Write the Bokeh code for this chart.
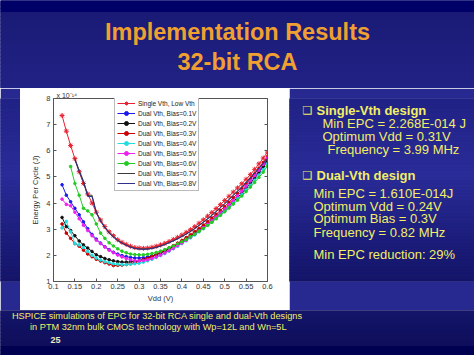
from bokeh.plotting import figure
from bokeh.layouts import column, row
from bokeh.models import (Range1d, LinearAxis, FixedTicker, Title,
                          Legend, LegendItem, ColumnDataSource)
from bokeh.core.properties import value
from bokeh.embed import file_html
from bokeh.resources import INLINE

# ---------------- data (EPC in units of 1e-14 J) ----------------
VDD = [0.12, 0.13, 0.14, 0.15, 0.16, 0.17, 0.18, 0.19, 0.20, 0.21,
       0.22, 0.23, 0.24, 0.25, 0.26, 0.27, 0.28, 0.29, 0.30, 0.31,
       0.32, 0.33, 0.34, 0.35, 0.36, 0.37, 0.38, 0.39, 0.40, 0.41,
       0.42, 0.43, 0.44, 0.45, 0.46, 0.47, 0.48, 0.49, 0.50, 0.51,
       0.52, 0.53, 0.54, 0.55, 0.56, 0.57, 0.58, 0.59, 0.60]

single_vth = [7.35, 6.75, 6.2, 5.7, 5.2, 4.75, 4.35, 4.0, 3.65, 3.35,
              3.1, 2.9, 2.75, 2.6, 2.5, 2.42, 2.35, 2.3, 2.28, 2.27,
              2.28, 2.31, 2.35, 2.4, 2.46, 2.53, 2.61, 2.69, 2.78, 2.88,
              2.98, 3.1, 3.23, 3.36, 3.5, 3.64, 3.79, 3.94, 4.1, 4.26,
              4.42, 4.58, 4.74, 4.91, 5.09, 5.29, 5.5, 5.72, 5.95]
bias_01 = [4.7, 4.3, 4.05, 3.8, 3.55, 3.28, 3.02, 2.8, 2.62, 2.47,
           2.33, 2.22, 2.12, 2.05, 1.99, 1.95, 1.92, 1.9, 1.9, 1.91,
           1.94, 1.98, 2.03, 2.09, 2.16, 2.24, 2.32, 2.41, 2.5, 2.6,
           2.7, 2.81, 2.92, 3.04, 3.16, 3.29, 3.42, 3.56, 3.7, 3.86,
           4.03, 4.2, 4.38, 4.57, 4.77, 4.98, 5.2, 5.43, 5.67]
bias_02 = [3.45, 3.1, 2.95, 2.75, 2.55, 2.4, 2.28, 2.15, 2.02, 1.95,
           1.88, 1.83, 1.79, 1.76, 1.74, 1.74, 1.75, 1.77, 1.8, 1.84,
           1.89, 1.95, 2.02, 2.09, 2.17, 2.25, 2.34, 2.43, 2.53, 2.63,
           2.74, 2.85, 2.97, 3.09, 3.21, 3.34, 3.47, 3.61, 3.75, 3.9,
           4.05, 4.21, 4.38, 4.56, 4.75, 4.95, 5.16, 5.38, 5.6]
bias_03 = [3.2, 2.85, 2.65, 2.45, 2.35, 2.2, 2.05, 1.95, 1.85, 1.78,
           1.72, 1.67, 1.61, 1.62, 1.63, 1.65, 1.68, 1.72, 1.77, 1.83,
           1.89, 1.96, 2.03, 2.11, 2.19, 2.28, 2.37, 2.47, 2.57, 2.68,
           2.79, 2.91, 3.03, 3.16, 3.29, 3.43, 3.57, 3.72, 3.87, 4.03,
           4.2, 4.37, 4.55, 4.73, 4.92, 5.12, 5.33, 5.55, 5.78]
bias_04 = [3.05, 3.3, 2.9, 2.45, 2.4, 2.3, 2.15, 2.0, 1.9, 1.82,
           1.76, 1.72, 1.68, 1.66, 1.65, 1.65, 1.66, 1.68, 1.7, 1.74,
           1.79, 1.85, 1.92, 1.99, 2.07, 2.16, 2.25, 2.35, 2.45, 2.56,
           2.67, 2.78, 2.9, 3.02, 3.15, 3.28, 3.42, 3.56, 3.71, 3.86,
           4.01, 4.17, 4.33, 4.5, 4.68, 4.87, 5.07, 5.28, 5.5]
bias_05 = [4.15, 3.95, 3.9, 3.65, 3.4, 3.15, 2.95, 2.75, 2.58, 2.45,
           2.32, 2.2, 2.1, 2.01, 1.94, 1.88, 1.83, 1.8, 1.79, 1.8,
           1.83, 1.88, 1.94, 2.01, 2.09, 2.18, 2.27, 2.37, 2.47, 2.58,
           2.69, 2.81, 2.93, 3.06, 3.19, 3.33, 3.47, 3.62, 3.77, 3.93,
           4.1, 4.28, 4.46, 4.65, 4.85, 5.05, 5.26, 5.48, 5.72]
# starts at Vdd = 0.14
bias_06 = [5.4, 4.75, 4.3, 3.8, 3.7, 3.55, 3.2, 2.85,
           2.65, 2.48, 2.36, 2.25, 2.16, 2.1, 2.05, 2.03, 2.02, 2.02,
           2.04, 2.07, 2.11, 2.16, 2.22, 2.29, 2.36, 2.44, 2.52, 2.61,
           2.71, 2.81, 2.92, 3.03, 3.15, 3.27, 3.4, 3.53, 3.67, 3.81,
           3.96, 4.11, 4.27, 4.44, 4.61, 4.79, 4.98, 5.18, 5.42]
# start at Vdd = 0.15
bias_07 = [5.7, 5.25, 4.85, 4.3, 4.3, 3.65, 3.32,
           3.07, 2.87, 2.71, 2.57, 2.47, 2.39, 2.32, 2.27, 2.25, 2.24,
           2.25, 2.27, 2.31, 2.36, 2.42, 2.49, 2.56, 2.64, 2.73, 2.82,
           2.92, 3.03, 3.15, 3.27, 3.4, 3.54, 3.68, 3.83, 3.98, 4.14,
           4.3, 4.46, 4.62, 4.79, 4.97, 5.15, 5.34, 5.53, 5.7]
bias_08 = [5.65, 5.2, 4.8, 4.25, 4.25, 3.62, 3.3,
           3.05, 2.85, 2.7, 2.56, 2.46, 2.38, 2.31, 2.26, 2.24, 2.23,
           2.24, 2.26, 2.3, 2.35, 2.41, 2.48, 2.55, 2.63, 2.72, 2.81,
           2.91, 3.02, 3.14, 3.26, 3.39, 3.53, 3.67, 3.82, 3.97, 4.13,
           4.29, 4.45, 4.61, 4.78, 4.96, 5.14, 5.33, 5.52, 5.68]

SERIES_NAMES = ["Single Vth, Low Vth", "Dual Vth, Bias=0.1V", "Dual Vth, Bias=0.2V",
                "Dual Vth, Bias=0.3V", "Dual Vth, Bias=0.4V", "Dual Vth, Bias=0.5V",
                "Dual Vth, Bias=0.6V", "Dual Vth, Bias=0.7V", "Dual Vth, Bias=0.8V"]
SERIES_VALUES = [single_vth, bias_01, bias_02, bias_03, bias_04, bias_05,
                 bias_06, bias_07, bias_08]

X_TICKS = [0.1, 0.15, 0.2, 0.25, 0.3, 0.35, 0.4, 0.45, 0.5, 0.55, 0.6]
X_TICK_LABELS = ["0.1", "0.15", "0.2", "0.25", "0.3", "0.35", "0.4", "0.45", "0.5", "0.55", "0.6"]
Y_TICKS = [1, 2, 3, 4, 5, 6, 7, 8]

# ---------------- styles ----------------
COLORS = ["#e82030", "#1a1aee", "#111111", "#cc0000", "#22dddd", "#ee22ee",
          "#22cc22", "#3a3a3a", "#303088"]
MARKERS = ["asterisk", "circle", "circle", "circle", "circle", "circle", "circle", None, None]

W, H = 474, 355
PANEL_L, PANEL_R, PANEL_T, PANEL_B = 20, 289, 88, 310   # white chart panel
FL, FR, FT, FB = 53, 267, 98, 281                        # plot frame
SANS = "Liberation Sans"
TITLE_COLOR = "#f0a030"
YELLOW = "#f2ee66"


def lerp(c1, c2, t):
    return "#%02x%02x%02x" % tuple(int(round(a + (b - a) * t)) for a, b in zip(c1, c2))


STOPS = [(0, (0, 0, 105)), (12, (0, 0, 105)), (13, (26, 26, 118)),
         (180, (42, 44, 152)), (345, (14, 14, 92)), (346, (0, 0, 80)), (355, (0, 0, 80))]


def bg_color(y):
    for (y0, c0), (y1, c1) in zip(STOPS[:-1], STOPS[1:]):
        if y0 <= y <= y1:
            return lerp(c0, c1, (y - y0) / max(y1 - y0, 1))
    return lerp(STOPS[-1][1], STOPS[-1][1], 0)


def slide_panel(x0, x1, y0, y1):
    f = figure(width=x1 - x0, height=y1 - y0, x_range=Range1d(x0, x1), y_range=Range1d(y1, y0),
               x_axis_type=None, y_axis_type=None, min_border=0, toolbar_location=None,
               output_backend="svg", outline_line_color=None,
               background_fill_color=bg_color((y0 + y1) / 2),
               border_fill_color=bg_color((y0 + y1) / 2))
    f.grid.visible = False
    tops, bots, cols = [], [], []
    yy = y0
    while yy < y1:
        y2 = min(yy + 4, y1)
        tops.append(yy)
        bots.append(y2)
        cols.append(bg_color((yy + y2) / 2))
        yy = y2
    f.quad(left=x0, right=x1, top=tops, bottom=bots, fill_color=cols, line_color=cols)
    return f


def add_text(f, x, y, text, size, color, bold=False, align="left", font=SANS):
    f.text(x=[x], y=[y], text=[text], text_font=value(font), text_font_size=size,
           text_color=color, text_font_style="bold" if bold else "normal",
           text_align=align, text_baseline="middle")


# ---------------- top: title ----------------
top = slide_panel(0, W, 0, PANEL_T)
add_text(top, 237, 31, "Implementation Results", "23.5px", TITLE_COLOR, bold=True, align="center")
add_text(top, 237, 61, "32-bit RCA", "23.5px", TITLE_COLOR, bold=True, align="center")

# ---------------- left strip ----------------
left = slide_panel(0, PANEL_L, PANEL_T, PANEL_B)

# ---------------- right text column ----------------
right = slide_panel(PANEL_R, W, PANEL_T, PANEL_B)
add_text(right, 302, 102, "\u2751", "11px", YELLOW, font="DejaVu Sans")
add_text(right, 316, 102, "Single-Vth design", "13px", YELLOW, bold=True)
add_text(right, 322, 118, "Min EPC = 2.268E-014 J", "13px", YELLOW)
add_text(right, 322, 134, "Optimum Vdd  = 0.31V", "13px", YELLOW)
add_text(right, 327, 150, "Frequency = 3.99 MHz", "13px", YELLOW)
add_text(right, 302, 182, "\u2751", "11px", YELLOW, font="DejaVu Sans")
add_text(right, 316, 182, "Dual-Vth design", "13px", YELLOW, bold=True)
add_text(right, 313, 203, "Min EPC = 1.610E-014J", "13px", YELLOW)
add_text(right, 313, 219, "Optimum Vdd  = 0.24V", "13px", YELLOW)
add_text(right, 313, 234, "Optimum Bias = 0.3V", "13px", YELLOW)
add_text(right, 313, 250, "Frequency = 0.82 MHz", "13px", YELLOW)
add_text(right, 313, 277, "Min EPC reduction: 29%", "13px", YELLOW)

# ---------------- bottom caption ----------------
bottom = slide_panel(0, W, PANEL_B, H)
add_text(bottom, 158, 315, "HSPICE simulations  of EPC for 32-bit RCA single and dual-Vth designs",
         "9.2px", YELLOW, align="center")
add_text(bottom, 158, 326, "in PTM 32nm bulk CMOS technology with Wp=12L and Wn=5L",
         "9.2px", YELLOW, align="center")
add_text(bottom, 55, 339, "25", "9px", "#ececc0", bold=True, align="center")

# ---------------- chart ----------------
p = figure(width=PANEL_R - PANEL_L, height=PANEL_B - PANEL_T,
           x_range=Range1d(0.1, 0.6), y_range=Range1d(1, 8),
           output_backend="svg", toolbar_location=None,
           min_border_left=FL - PANEL_L, min_border_right=PANEL_R - FR,
           min_border_top=FT - PANEL_T, min_border_bottom=PANEL_B - FB,
           background_fill_color="white", border_fill_color="white",
           outline_line_color="#555555")
p.grid.visible = False

items = []
for name, vals, col, mk in zip(SERIES_NAMES, SERIES_VALUES, COLORS, MARKERS):
    src = ColumnDataSource(dict(x=VDD[len(VDD) - len(vals):], y=vals))
    rs = [p.line("x", "y", source=src, line_color=col, line_width=1)]
    if mk == "asterisk":
        rs.append(p.scatter("x", "y", source=src, marker="asterisk", size=5,
                            line_color=col, line_width=1))
    elif mk == "circle":
        rs.append(p.scatter("x", "y", source=src, marker="circle", size=2.6,
                            line_color=col, fill_color=col))
    items.append(LegendItem(label=name, renderers=rs))

xa = p.xaxis[0]
ya = p.yaxis[0]
xa.ticker = FixedTicker(ticks=X_TICKS)
xa.major_label_overrides = {t: s for t, s in zip(X_TICKS, X_TICK_LABELS)}
ya.ticker = FixedTicker(ticks=Y_TICKS)
xa.axis_label = "Vdd (V)"
ya.axis_label = "Energy Per Cycle (J)"
for ax in (xa, ya):
    ax.major_tick_in = 3
    ax.major_tick_out = 0
    ax.minor_tick_line_color = None
    ax.axis_line_color = "#555555"
    ax.major_tick_line_color = "#555555"
    ax.major_label_text_font = SANS
    ax.major_label_text_font_size = "7.5px"
    ax.major_label_text_color = "#333333"
    ax.axis_label_text_font = SANS
    ax.axis_label_text_font_size = "7.5px"
    ax.axis_label_text_font_style = "normal"
    ax.axis_label_text_color = "#333333"
xa.major_label_standoff = 2
xa.axis_label_standoff = 2
ya.major_label_standoff = 3
ya.axis_label_standoff = 3

right_ax = LinearAxis(ticker=FixedTicker(ticks=Y_TICKS), major_tick_in=3, major_tick_out=0,
                      minor_tick_line_color=None, major_label_text_color=None,
                      major_label_text_font_size="1px", major_label_standoff=0,
                      axis_line_color="#555555", major_tick_line_color="#555555")
p.add_layout(right_ax, "right")

p.title = Title(text="x 10\u207b\u00b9\u2074", align="left", offset=3, standoff=0,
                text_font=SANS, text_font_size="7px", text_font_style="normal",
                text_color="#333333")

legend = Legend(items=items, location=(114 - FL, FB - 191),
                label_text_font=SANS, label_text_font_size="6.5px",
                label_text_color="#222222",
                label_height=10, glyph_height=10, glyph_width=18,
                label_standoff=3, spacing=0, padding=2, margin=0,
                border_line_color="#777777", border_line_width=1,
                background_fill_color="white", background_fill_alpha=1)
p.add_layout(legend)

layout = column(top, row(left, p, right, spacing=0), bottom, spacing=0)
open("out.html", "w").write(file_html(layout, INLINE))
